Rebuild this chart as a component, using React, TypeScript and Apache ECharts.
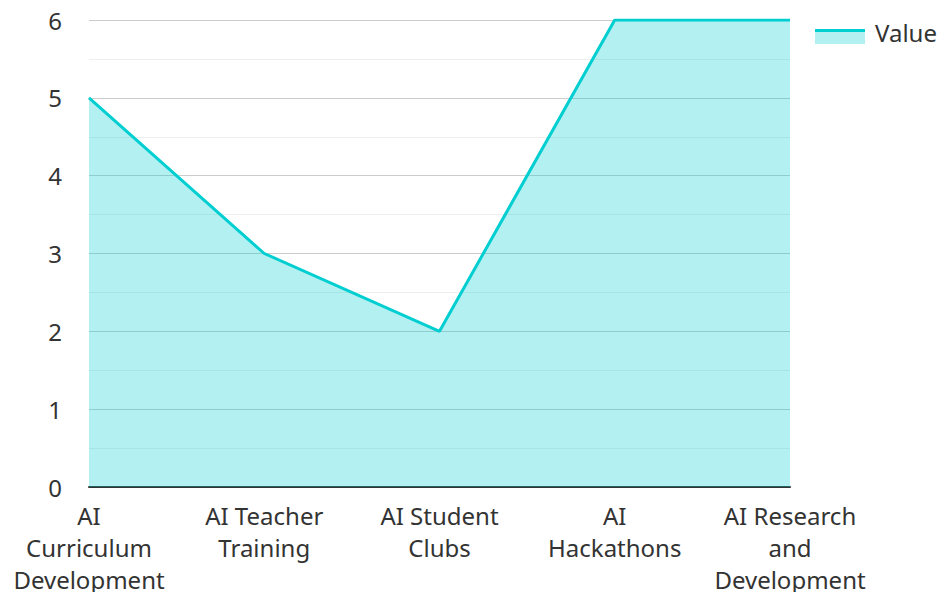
import React, { useEffect, useRef } from "react";
import * as echarts from "echarts";

const categories = [
  "AI Curriculum Development",
  "AI Teacher Training",
  "AI Student Clubs",
  "AI Hackathons",
  "AI Research and Development",
];
const values = [5, 3, 2, 6, 6];
const seriesName = "Value";

function wrapWords(text: string, maxChars: number): string {
  const words = text.split(" ");
  const lines: string[] = [];
  let cur = "";
  for (const w of words) {
    if (!cur) cur = w;
    else if ((cur + " " + w).length <= maxChars) cur += " " + w;
    else {
      lines.push(cur);
      cur = w;
    }
  }
  if (cur) lines.push(cur);
  return lines.join("\n");
}

export default function App() {
  const ref = useRef<HTMLDivElement>(null);
  useEffect(() => {
    if (!ref.current) return;
    const chart = echarts.init(ref.current, null, { renderer: "svg" });
    const font = "'Noto Sans', 'Open Sans', sans-serif";
    chart.setOption({
      animation: false,
      textStyle: { fontFamily: font },
      legend: {
        data: [{ name: seriesName, icon: "rect", itemStyle: { color: "rgba(0,0,0,0)" } }],
        left: 815,
        top: 15,
        itemWidth: 50,
        itemHeight: 12,
        itemGap: 8,
        textStyle: { fontSize: 24, color: "#333", fontFamily: font },
      },
      graphic: [
        {
          type: "rect",
          shape: { x: 815, y: 32, width: 50, height: 12 },
          style: { fill: "rgba(0,206,209,0.3)" },
          silent: true,
          z: 100,
        },
        {
          type: "line",
          shape: { x1: 815, y1: 30.5, x2: 865, y2: 30.5 },
          style: { stroke: "#00CED1", lineWidth: 3 },
          silent: true,
          z: 100,
        },
      ],
      grid: { left: 89, right: 149, top: 20, bottom: 105, outerBoundsMode: "none" },
      xAxis: {
        type: "category",
        data: categories,
        boundaryGap: false,
        axisLine: { lineStyle: { color: "#333", width: 2 } },
        axisTick: { show: false },
        axisLabel: {
          fontSize: 24,
          color: "#333",
          fontFamily: font,
          interval: 0,
          lineHeight: 32,
          margin: 12,
          formatter: (v: string) => wrapWords(v, 11),
        },
      },
      yAxis: {
        type: "value",
        min: 0,
        max: 6,
        interval: 1,
        axisLine: { show: false },
        axisTick: { show: false },
        axisLabel: { fontSize: 24, color: "#333", fontFamily: font, margin: 27 },
        splitLine: { lineStyle: { color: "#ccc", width: 1 } },
        minorTick: { show: false, splitNumber: 2 },
        minorSplitLine: { show: true, lineStyle: { color: "#eee", width: 1 } },
      },
      series: [
        {
          name: seriesName,
          type: "line",
          data: values,
          symbol: "none",
          lineStyle: { color: "#00CED1", width: 3 },
          itemStyle: { color: "#00CED1" },
          areaStyle: { color: "#00CED1", opacity: 0.3 },
        },
      ],
    });
    return () => chart.dispose();
  }, []);
  return (
    <div
      ref={ref}
      style={{ position: "absolute", left: 0, top: 0, width: 939, height: 592 }}
    />
  );
}
